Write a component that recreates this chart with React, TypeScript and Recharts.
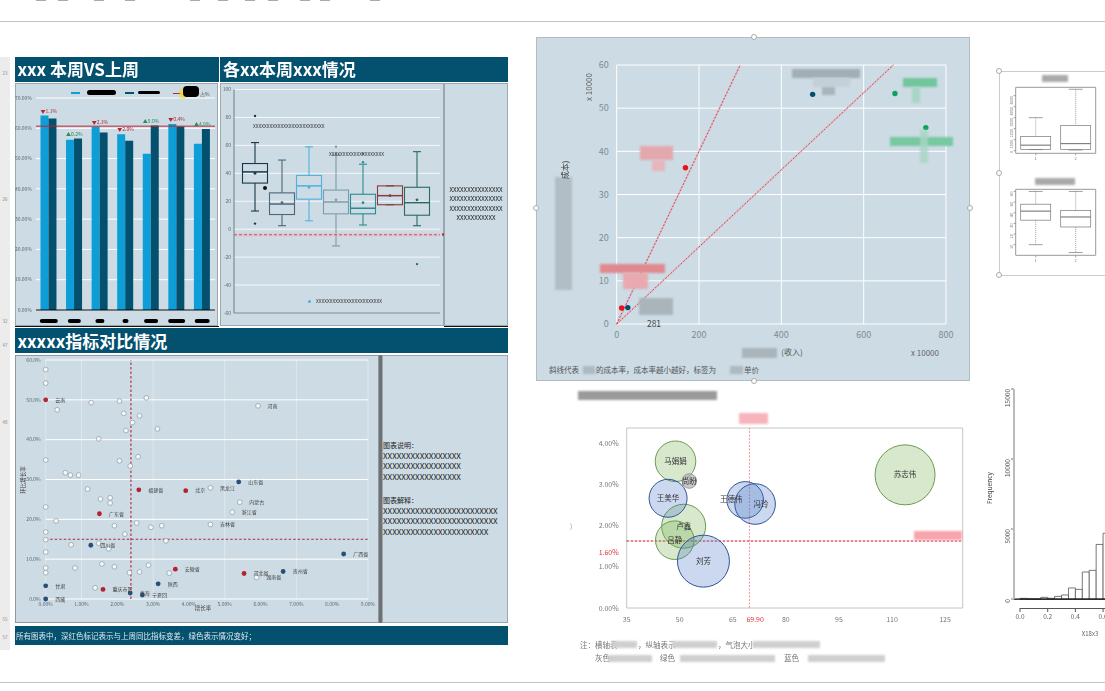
import {
  Bar,
  CartesianGrid,
  ComposedChart,
  LabelList,
  Line,
  ReferenceArea,
  ReferenceLine,
  Scatter,
  ScatterChart,
  XAxis,
  YAxis,
  ZAxis,
} from "recharts";

const NAVY = "#03516e";
const PANEL = "#ccdbe4";
const SKY = "#0d9ed8";
const FONT = '"Noto Sans CJK SC", "Noto Sans", sans-serif';

// 周对比柱状图
const weekCats = ["A", "B", "C", "D", "E", "F", "G"];
const lastWeek = [64.2, 56.2, 60.5, 58, 51.6, 61.4, 54.9];
const thisWeek = [63.2, 56.6, 58.6, 55.9, 60.9, 60.6, 59.8];
const weekDelta = ["▼1.1%", "▲0.2%", "▼2.1%", "▼2.0%", "▲9.0%", "▼0.4%", "▲4.9%"];
const weekTicks = [0, 10, 20, 30, 40, 50, 60, 70];
const weekRef = 60.7;
const weekRows = weekCats.map((c, i) => ({
  c,
  last: lastWeek[i],
  cur: thisWeek[i],
  top: Math.max(lastWeek[i], thisWeek[i]),
  delta: weekDelta[i],
}));

// 箱线图
const boxCats = ["1", "2", "3", "4", "5", "6", "7"];
const boxLo = [13, 2.5, 6, -12, 3, 17.5, 2.5];
const boxQ1 = [33, 10.5, 21.5, 11, 11, 17.5, 10];
const boxMed = [41, 18, 31, 19.5, 15, 24, 19];
const boxQ3 = [47, 26, 38.5, 28, 25, 31, 30];
const boxHi = [62, 49.5, 59, 53, 46.5, 31, 55.5];
const boxMean = [40, 19, 30, 21, 19, 24, 21];
const boxOut = [[81, 4], [], [], [59, 54], [48, 54], [], [-25]];
const boxRef = -4;
const boxTicks = [-60, -40, -20, 0, 20, 40, 60, 80, 100];
const boxColors = ["#17384a", "#4d6878", "#4fb2dc", "#7c9cac", "#2c8b92", "#8a3b3b", "#2b6b5c"];
const boxRows = boxCats.map((c, i) => ({
  c,
  lo: boxLo[i],
  q1: boxQ1[i],
  med: boxMed[i],
  q3: boxQ3[i],
  hi: boxHi[i],
  mean: boxMean[i],
  out: boxOut[i],
}));

// 指标散点
const idxHollow = [
  { x: 0, y: 57.6 }, { x: 0, y: 54.2 }, { x: 0.32, y: 47.5 }, { x: 1.27, y: 49.3 }, { x: 2.06, y: 49.7 },
  { x: 2.81, y: 50.5 }, { x: 2.18, y: 46.6 }, { x: 2.62, y: 46 }, { x: 2.42, y: 44.3 }, { x: 2.24, y: 42.3 },
  { x: 3.12, y: 42.7 }, { x: 1.48, y: 40.2 }, { x: 5.93, y: 48.5, name: "河南" }, { x: 0, y: 34.9 },
  { x: 2.06, y: 34.7 }, { x: 2.58, y: 35.7 }, { x: 2.36, y: 33.4 }, { x: 0.55, y: 31.7 }, { x: 0.69, y: 31.1 },
  { x: 0.92, y: 31.1 }, { x: 1.17, y: 27.6 }, { x: 1.53, y: 25.1 }, { x: 1.8, y: 25.4 }, { x: 1.8, y: 24.1 },
  { x: 0, y: 23.1 }, { x: 0.29, y: 19.6 }, { x: 1.92, y: 18.4 }, { x: 2.54, y: 19.1 }, { x: 2.94, y: 18 },
  { x: 3.24, y: 18.4 }, { x: 4.6, y: 18.7, name: "吉林省" }, { x: 4.6, y: 27.9, name: "黑龙江" },
  { x: 5.42, y: 24.3, name: "内蒙古" }, { x: 5.21, y: 21.8, name: "浙江省" }, { x: 0, y: 16.8 },
  { x: 2.21, y: 16.3 }, { x: 0, y: 14.9 }, { x: 0.71, y: 13.6 }, { x: 1.48, y: 14 }, { x: 1.76, y: 12.6 },
  { x: 3.36, y: 14.6 }, { x: 0, y: 11.8 }, { x: 0, y: 7.8 }, { x: 0, y: 6.6 }, { x: 0.82, y: 7.8 },
  { x: 1.57, y: 8.8 }, { x: 1.92, y: 8.1 }, { x: 2.34, y: 6.6 }, { x: 2.62, y: 6.8 }, { x: 2.87, y: 8.5 },
  { x: 3.45, y: 6.5 }, { x: 1.38, y: 2.8 }, { x: 5.89, y: 5.4, name: "湖南省" },
];
const idxRed = [
  { x: 0, y: 50, name: "云南" }, { x: 2.6, y: 27.4, name: "福建省" }, { x: 3.91, y: 27.2, name: "北京" },
  { x: 1.5, y: 21.4, name: "广东省" }, { x: 3.62, y: 7.5, name: "安徽省" }, { x: 5.54, y: 6.4, name: "河北省" },
  { x: 1.6, y: 2.4, name: "重庆市区" },
];
const idxBlue = [
  { x: 5.39, y: 29.4, name: "山东省" }, { x: 1.26, y: 13.5, name: "四川省" }, { x: 8.32, y: 11.3, name: "广西省" },
  { x: 6.63, y: 6.9, name: "贵州省" }, { x: 3.14, y: 3.8, name: "陕西" }, { x: 0, y: 3.3, name: "甘肃" },
  { x: 2.36, y: 1.5, name: "青海" }, { x: 2.7, y: 1, name: "宁夏回" }, { x: 0, y: 0, name: "西藏" },
];
const idxXTicks = [0, 1, 2, 3, 4, 5, 6, 7, 8, 9];
const idxYTicks = [0, 10, 20, 30, 40, 50, 60];
const idxRefX = 2.38;
const idxRefY = 15;

// 收入成本散点
const costRed = [{ x: 12, y: 3.7 }, { x: 167, y: 36.2 }];
const costTeal = [{ x: 27, y: 3.8 }, { x: 476, y: 53.2 }];
const costGreen = [{ x: 676, y: 53.4 }, { x: 751, y: 45.5 }];
const costXTicks = [0, 200, 400, 600, 800];
const costYTicks = [0, 10, 20, 30, 40, 50, 60];
const costSteep = 300;
const costFlat = 672;

// 气泡图
const bubbleBlue = [
  { x: 46.7, y: 2.67, z: 361, name: "王美华" }, { x: 56.7, y: 1.14, z: 676, name: "刘芳" },
  { x: 68.5, y: 2.63, z: 335, name: "王德伟" }, { x: 71.3, y: 2.53, z: 412, name: "冯玲" },
];
const bubbleGreen = [
  { x: 48.8, y: 3.57, z: 412, name: "马娟娟" }, { x: 51.1, y: 1.99, z: 484, name: "卢鑫" },
  { x: 48.6, y: 1.65, z: 372, name: "吕静" }, { x: 113.7, y: 3.24, z: 900, name: "苏志伟" },
];
const bubbleGray = [{ x: 52.7, y: 3.09, z: 53, name: "尚盼" }];
const bubbleXTicks = [35, 50, 65, 69.9, 80, 95, 110, 125];
const bubbleYTicks = [0, 1, 1.6, 2, 3, 4];

// 右上两个小箱线图
const miniCats = ["1", "2"];
const miniA = { lo: [100, 60], q1: [120, 120], med: [500, 640], q3: [1300, 2300], hi: [3000, 5580] };
const miniB = { lo: [10, 2.6], q1: [33, 26.6], med: [41.5, 36], q3: [48, 42], hi: [60, 60] };
const miniATicks = [0, 1000, 2000, 3000, 4000, 5000];
const miniBTicks = [10, 20, 30, 40, 50, 60];
const miniRows = (m: typeof miniA) =>
  miniCats.map((c, i) => ({ c, lo: m.lo[i], q1: m.q1[i], med: m.med[i], q3: m.q3[i], hi: m.hi[i], out: [] }));

// 直方图
const histEdges = [0, 0.05, 0.1, 0.15, 0.2, 0.25, 0.3, 0.35, 0.4, 0.45, 0.5, 0.55, 0.6];
const histFreq = [50, 20, 10, 120, 50, 190, 290, 790, 690, 1930, 2050, 3900, 4700];
const histRows = histEdges.map((e, i) => ({ b: String(e), edge: e, f: histFreq[i] }));
const histYTicks = [0, 5000, 10000, 15000];
const histXTicks = [0, 0.2, 0.4, 0.6];

const scribbles = [18, 13, 9, 6, 14, 17, 15];
const bubbleNudge: Record<string, number> = { 王德伟: -14, 冯玲: 6 };

const Note = ({ x, y, size, color = "#222", center, children }: any) => (
  <div
    style={{
      position: "absolute",
      left: x,
      top: y,
      fontSize: size,
      color,
      lineHeight: 1,
      whiteSpace: "nowrap",
      transform: center ? "translate(-50%,-50%)" : "translateY(-50%)",
    }}
  >
    {children}
  </div>
);

const Vert = ({ x, y, size, color = "#666", children }: any) => (
  <div
    style={{
      position: "absolute",
      left: x,
      top: y,
      fontSize: size,
      color,
      lineHeight: 1,
      whiteSpace: "nowrap",
      transform: "translate(-50%,-50%) rotate(-90deg)",
    }}
  >
    {children}
  </div>
);

const Rect = ({ x, y, w, h, bg, border, radius }: any) => (
  <div
    style={{
      position: "absolute",
      left: x,
      top: y,
      width: w,
      height: h,
      background: bg,
      border,
      borderRadius: radius,
      boxSizing: "border-box",
    }}
  />
);

const Smudge = ({ x, y, w, h, bg, o = 1, blur = 1.2 }: any) => (
  <div
    style={{
      position: "absolute",
      left: x,
      top: y,
      width: w,
      height: h,
      background: bg,
      opacity: o,
      filter: `blur(${blur}px)`,
    }}
  />
);

const Handle = ({ x, y }: any) => (
  <div
    style={{
      position: "absolute",
      left: x - 3,
      top: y - 3,
      width: 6,
      height: 6,
      borderRadius: 3,
      background: "#fff",
      border: "1px solid #aaa",
      boxSizing: "border-box",
    }}
  />
);

const Header = ({ x, y, w, h, children }: any) => (
  <div
    style={{
      position: "absolute",
      left: x,
      top: y,
      width: w,
      height: h,
      background: NAVY,
      color: "#fff",
      fontSize: 17,
      fontWeight: 700,
      lineHeight: `${h}px`,
      paddingLeft: 3,
      boxSizing: "border-box",
    }}
  >
    {children}
  </div>
);

const Chart = ({ x, y, children }: any) => <div style={{ position: "absolute", left: x, top: y }}>{children}</div>;

const BoxShape = (opts: any) => (props: any) => {
  const { x, y, width, height, payload, index } = props;
  const color = opts.colors[index];
  const unit = height / (payload.hi - payload.lo);
  const at = (v: number) => y + (payload.hi - v) * unit;
  const mid = x + width / 2;
  const cap = opts.cap;
  return (
    <g stroke={color} fill="none" strokeWidth={opts.sw}>
      <line x1={mid} x2={mid} y1={at(payload.hi)} y2={at(payload.q3)} strokeDasharray={opts.dash} />
      <line x1={mid} x2={mid} y1={at(payload.q1)} y2={at(payload.lo)} strokeDasharray={opts.dash} />
      <line x1={mid - cap} x2={mid + cap} y1={at(payload.hi)} y2={at(payload.hi)} />
      <line x1={mid - cap} x2={mid + cap} y1={at(payload.lo)} y2={at(payload.lo)} />
      <rect x={x} y={at(payload.q3)} width={width} height={at(payload.q1) - at(payload.q3)} />
      <line x1={x} x2={x + width} y1={at(payload.med)} y2={at(payload.med)} strokeWidth={opts.sw + 0.4} />
      {payload.mean !== undefined && <circle cx={mid} cy={at(payload.mean)} r={1.4} fill={color} stroke="none" />}
      {payload.out.map((v: number) => (
        <circle key={v} cx={mid} cy={at(v)} r={1.2} fill={color} stroke="none" />
      ))}
    </g>
  );
};

const BlobTick = ({ x, y, index }: any) => {
  const w = scribbles[index] ?? 0;
  return <rect x={x - w / 2} y={y + 1} width={w} height={4} rx={2} fill="#000" />;
};

const DeltaLabel = ({ x, y, width, value }: any) => (
  <text
    x={x + (width || 0) / 2}
    y={y - 3}
    textAnchor="middle"
    fontSize={5}
    fill={String(value).startsWith("▼") ? "#b3262e" : "#2c8a5c"}
  >
    {value}
  </text>
);

const BubbleXTick = ({ x, y, payload }: any) => {
  const red = payload.value === 69.9;
  return (
    <text x={red ? x + 5 : x} y={y + 6} textAnchor="middle" fontSize={7} fill={red ? "#e0303a" : "#777"}>
      {red ? "69.90" : payload.value}
    </text>
  );
};

const BubbleYTick = ({ x, y, payload }: any) => {
  const red = payload.value === 1.6;
  return (
    <text x={x} y={red ? y + 13 : y + 2.5} textAnchor="end" fontSize={7} fill={red ? "#e0303a" : "#777"}>
      {payload.value.toFixed(2)}%
    </text>
  );
};

const BubbleLabel = ({ x, y, width, height, value }: any) => (
  <text
    x={x + width / 2 + (bubbleNudge[value] ?? 0)}
    y={y + height / 2 + 2.5}
    textAnchor="middle"
    fontSize={7.5}
    fill="#333"
  >
    {value}
  </text>
);

const Dot = (r: number) => (p: any) => (
  <circle cx={p.cx} cy={p.cy} r={r} fill={p.fill} stroke={p.stroke} strokeWidth={p.strokeWidth} />
);

const tickGray = { fontSize: 5, fill: "#5b6b75" };

const WeekChart = () => (
  <ComposedChart
    width={203}
    height={242}
    data={weekRows}
    barCategoryGap="17.5%"
    barGap={0}
    margin={{ top: 15, right: 3, bottom: 0, left: 0 }}
  >
    <CartesianGrid vertical={false} stroke="#fff" />
    <XAxis dataKey="c" height={15} tick={<BlobTick />} tickLine={false} axisLine={{ stroke: "#000", strokeWidth: 1.2 }} />
    <YAxis
      width={21}
      domain={[0, 70]}
      ticks={weekTicks}
      axisLine={false}
      tickLine={false}
      tickSize={0}
      tickMargin={4}
      tick={tickGray}
      tickFormatter={(v) => `${v.toFixed(2)}%`}
    />
    <Bar dataKey="last" fill={SKY} isAnimationActive={false} />
    <Bar dataKey="cur" fill={NAVY} isAnimationActive={false} />
    <ReferenceLine y={weekRef} stroke="#c0222c" strokeWidth={1} />
    <Line dataKey="top" stroke="none" dot={false} isAnimationActive={false}>
      <LabelList dataKey="delta" content={<DeltaLabel />} />
    </Line>
  </ComposedChart>
);

const BoxChart = () => (
  <ComposedChart width={224} height={242} data={boxRows} margin={{ top: 6.5, right: 4, bottom: 12, left: 0 }}>
    <CartesianGrid vertical={false} stroke="#fff" strokeOpacity={0.8} />
    <XAxis dataKey="c" hide padding={{ left: 7.5, right: 9.5 }} />
    <YAxis
      width={14}
      domain={[-60, 100]}
      ticks={boxTicks}
      tick={tickGray}
      tickLine={false}
      tickSize={0}
      tickMargin={3}
      axisLine={{ stroke: "#6b7f8b" }}
    />
    <ReferenceLine y={-60} stroke="#6b7f8b" />
    <ReferenceLine y={boxRef} stroke="#f0b8c0" strokeWidth={4} strokeOpacity={0.45} />
    <ReferenceLine y={boxRef} stroke="#b8324a" strokeDasharray="3 2" strokeWidth={0.8} />
    <Bar
      dataKey={(d: any) => [d.lo, d.hi]}
      barSize={25}
      isAnimationActive={false}
      shape={BoxShape({ colors: boxColors, sw: 1.1, cap: 4 })}
    />
  </ComposedChart>
);

const IndexChart = () => (
  <ScatterChart width={364} height={268} margin={{ top: 5, right: 11, bottom: 0, left: 0 }}>
    <CartesianGrid vertical={false} stroke="#fff" />
    <CartesianGrid horizontal={false} stroke="#fff" strokeOpacity={0.35} />
    <XAxis
      type="number"
      dataKey="x"
      height={24}
      domain={[0, 9]}
      ticks={idxXTicks}
      tick={tickGray}
      tickLine={false}
      tickSize={0}
      tickMargin={3}
      axisLine={false}
      tickFormatter={(v) => `${v.toFixed(2)}%`}
    />
    <YAxis
      type="number"
      dataKey="y"
      width={30.7}
      domain={[0, 60]}
      ticks={idxYTicks}
      tick={tickGray}
      tickLine={false}
      tickSize={0}
      tickMargin={5}
      axisLine={false}
      tickFormatter={(v) => `${v.toFixed(1)}%`}
    />
    <ReferenceLine x={idxRefX} stroke="#b3263e" strokeDasharray="2.5 2" strokeWidth={1.1} />
    <ReferenceLine y={idxRefY} stroke="#b3263e" strokeDasharray="2.5 2" strokeWidth={1.1} />
    <Scatter
      data={idxHollow}
      fill="#f4f8fa"
      stroke="#7f8d96"
      strokeWidth={0.6}
      shape={Dot(2.4)}
      isAnimationActive={false}
    >
      <LabelList dataKey="name" position="right" fontSize={5} fill="#444" />
    </Scatter>
    <Scatter data={idxRed} fill="#b3222e" shape={Dot(2.4)} isAnimationActive={false}>
      <LabelList dataKey="name" position="right" fontSize={5} fill="#444" />
    </Scatter>
    <Scatter data={idxBlue} fill="#274d78" shape={Dot(2.4)} isAnimationActive={false}>
      <LabelList dataKey="name" position="right" fontSize={5} fill="#444" />
    </Scatter>
  </ScatterChart>
);

const CostChart = () => (
  <ScatterChart width={434} height={344} margin={{ top: 28, right: 24, bottom: 0, left: 0 }}>
    <CartesianGrid stroke="#fff" />
    <XAxis
      type="number"
      dataKey="x"
      height={57}
      domain={[0, 800]}
      ticks={costXTicks}
      tick={{ fontSize: 9, fill: "#7f8c94" }}
      tickLine={false}
      axisLine={false}
    />
    <YAxis
      type="number"
      dataKey="y"
      width={80.7}
      domain={[0, 60]}
      ticks={costYTicks}
      tick={{ fontSize: 9, fill: "#7f8c94" }}
      tickLine={false}
      axisLine={false}
    />
    {[costSteep, costFlat].map((end) => (
      <ReferenceLine
        key={`u${end}`}
        segment={[{ x: 0, y: 0 }, { x: end, y: 60 }]}
        stroke="#e8b6c0"
        strokeWidth={2}
        strokeOpacity={0.6}
      />
    ))}
    {[costSteep, costFlat].map((end) => (
      <ReferenceLine
        key={`d${end}`}
        segment={[{ x: 0, y: 0 }, { x: end, y: 60 }]}
        stroke="#c42a3c"
        strokeWidth={0.8}
        strokeDasharray="2 1.5"
      />
    ))}
    <Scatter data={costRed} fill="#e8141c" shape={Dot(2.7)} isAnimationActive={false} />
    <Scatter data={costTeal} fill="#034e6c" shape={Dot(2.7)} isAnimationActive={false} />
    <Scatter data={costGreen} fill="#0ba35c" shape={Dot(2.7)} isAnimationActive={false} />
  </ScatterChart>
);

const BubbleChart = () => (
  <ScatterChart width={380} height={225} margin={{ top: 18, right: 7.3, bottom: 0, left: 0 }}>
    <XAxis
      type="number"
      dataKey="x"
      height={27}
      domain={[35, 130]}
      ticks={bubbleXTicks}
      interval={0}
      tick={<BubbleXTick />}
      tickLine={false}
      axisLine={false}
    />
    <YAxis
      type="number"
      dataKey="y"
      width={36.7}
      domain={[0, 4.38]}
      ticks={bubbleYTicks}
      interval={0}
      tick={<BubbleYTick />}
      tickLine={false}
      axisLine={false}
    />
    <ZAxis type="number" dataKey="z" domain={[0, 900]} range={[0, 2827]} />
    <ReferenceArea x1={35} x2={130} y1={0} y2={4.38} fill="none" stroke="#c4c4c4" />
    <Scatter data={bubbleGreen} fill="#70ad47" fillOpacity={0.28} stroke="#6a9a50" isAnimationActive={false}>
      <LabelList dataKey="name" content={<BubbleLabel />} />
    </Scatter>
    <Scatter data={bubbleGray} fill="#a5a5a5" fillOpacity={0.6} stroke="#999" isAnimationActive={false}>
      <LabelList dataKey="name" content={<BubbleLabel />} />
    </Scatter>
    <Scatter data={bubbleBlue} fill="#4472c4" fillOpacity={0.28} stroke="#2f5597" isAnimationActive={false}>
      <LabelList dataKey="name" content={<BubbleLabel />} />
    </Scatter>
    <ReferenceLine x={69.7} stroke="#f2929a" strokeDasharray="2 1.5" />
    <ReferenceLine y={1.63} stroke="#c8141e" strokeDasharray="2.5 1.5" />
  </ScatterChart>
);

const MiniBox = ({ rows, domain, ticks }: any) => (
  <ComposedChart width={104} height={100} data={rows} margin={{ top: 16.3, right: 7.3, bottom: 0, left: 0 }}>
    <XAxis
      dataKey="c"
      height={17.7}
      tick={{ fontSize: 4, fill: "#777" }}
      tickSize={2}
      axisLine={false}
      stroke="#999"
    />
    <YAxis
      width={16.7}
      domain={domain}
      ticks={ticks}
      angle={-90}
      tick={{ fontSize: 4, fill: "#777" }}
      tickSize={2}
      axisLine={false}
      stroke="#999"
    />
    <ReferenceArea y1={domain[0]} y2={domain[1]} fill="none" stroke="#999" ifOverflow="visible" />
    <Bar
      dataKey={(d: any) => [d.lo, d.hi]}
      barSize={30}
      isAnimationActive={false}
      shape={BoxShape({ colors: ["#777", "#777"], sw: 0.7, cap: 7, dash: "1 1" })}
    />
  </ComposedChart>
);

const HistChart = () => (
  <ComposedChart
    width={140}
    height={270}
    data={histRows}
    barCategoryGap={0}
    margin={{ top: 14, right: 0, bottom: 0, left: 0 }}
  >
    <XAxis xAxisId="bins" dataKey="b" hide height={0} padding={{ left: 6, right: 0 }} />
    <XAxis
      xAxisId="num"
      dataKey="edge"
      type="number"
      height={37}
      domain={[-0.0434, 0.65]}
      ticks={histXTicks}
      allowDataOverflow
      tick={{ fontSize: 6.5, fill: "#666" }}
      tickFormatter={(v) => v.toFixed(1)}
      axisLine={false}
      stroke="#555"
      tickSize={4}
    />
    <YAxis
      width={44}
      domain={[-640, 15000]}
      ticks={histYTicks}
      angle={-90}
      tick={{ fontSize: 6.5, fill: "#555" }}
      axisLine={false}
      stroke="#777"
      tickSize={3}
      tickMargin={3}
    />
    <Bar xAxisId="bins" dataKey="f" fill="#fff" stroke="#555" strokeWidth={0.8} isAnimationActive={false} />
    <ReferenceLine xAxisId="bins" y={0} stroke="#000" strokeWidth={1.2} />
  </ComposedChart>
);

const xs = (n: number) => "X".repeat(n);

export default function App() {
  return (
    <div
      style={{
        position: "absolute",
        left: 0,
        top: 0,
        width: 1105,
        height: 691,
        overflow: "hidden",
        background: "#fff",
        fontFamily: FONT,
      }}
    >
      <div style={{ position: "absolute", inset: 0, filter: "blur(0.45px)" }}>
        <Rect x={0} y={21} w={1105} h={1} bg="#c4c4c4" />
        <Rect x={0} y={682} w={1105} h={1} bg="#c4c4c4" />
        {[36, 58, 94, 125, 190, 218, 245, 268, 300, 320, 370].map((x) => (
          <Smudge key={x} x={x} y={-1} w={10} h={2} bg="#aaa" blur={0.6} />
        ))}

        <Rect x={0} y={57} w={10} h={593} bg="#ececec" />
        {[["23", 73], ["26", 199], ["32", 321], ["47", 345], ["48", 422], ["55", 619], ["57", 637]].map(([t, y]) => (
          <Note key={t} x={5} y={y} size={4.5} color="#888" center>{t}</Note>
        ))}

        <Header x={14.5} y={57} w={204} h={24.5}>xxx 本周VS上周</Header>
        <Header x={220} y={57} w={288} h={24.5}>各xx本周xxx情况</Header>
        <Header x={14.5} y={328} w={493.5} h={25}>xxxxx指标对比情况</Header>
        <Rect x={15} y={83} w={203} h={243} bg={PANEL} border="1px solid #9aa8b0" />
        <Rect x={220} y={83} w={224} h={243} bg={PANEL} border="1px solid #9aa8b0" />
        <Rect x={444} y={83} w={64} h={243} bg={PANEL} border="1px solid #9aa8b0" />
        <Rect x={15} y={326} w={204} h={1} bg="#111" />
        <Rect x={444} y={326} w={64} h={1} bg="#111" />
        <Rect x={15} y={355} w={364} h={268} bg={PANEL} border="1px solid #8e9aa2" />
        <Rect x={379} y={355} w={3} h={268} bg="#707070" />
        <Rect x={382} y={355} w={126} h={268} bg={PANEL} border="1px solid #9aa8b0" />
        <Rect x={14.5} y={626} w={493.5} h={19} bg={NAVY} />
        <Note x={16} y={635.5} size={7.5} color="#dfe8ec">所有图表中，深红色标记表示与上周同比指标变差，绿色表示情况变好；</Note>

        <Chart x={15} y={83}><WeekChart /></Chart>
        <Rect x={71} y={91.5} w={9} h={2} bg={SKY} />
        <Rect x={87} y={90} w={29} h={4.5} bg="#000" radius={3} />
        <Rect x={125} y={91.5} w={9} h={2} bg={NAVY} />
        <Rect x={138} y={91} w={22} h={3} bg="#000" radius={2} />
        <Rect x={173} y={92.5} w={9} h={1} bg="#c0222c" />
        <Smudge x={180} y={89} w={6} h={9} bg="#f2d83a" blur={1} />
        <Rect x={183} y={86} w={16} h={11} bg="#000" radius={4} />
        <Note x={200} y={93} size={5} color="#555">占%</Note>

        <Chart x={220} y={83}><BoxChart /></Chart>
        <Note x={253} y={126} size={4.8} color="#333">{xs(26)}</Note>
        <Note x={329} y={154} size={4.8} color="#333">{xs(20)}</Note>
        <Note x={316} y={301} size={4.8} color="#333">{xs(24)}</Note>
        <Rect x={308} y={300} w={2.5} h={2.5} bg="#4fb2dc" radius={2} />
        <Rect x={263} y={186} w={3.5} h={3.5} bg="#111" radius={2} />
        <Rect x={441.5} y={233} w={2.5} h={2.5} bg="#b8324a" radius={2} />
        {[190, 199, 209].map((y) => (
          <Note key={y} x={476} y={y} size={6.2} center>{xs(15)}</Note>
        ))}
        <Note x={476} y={218} size={6.2} center>{xs(11)}</Note>

        <Chart x={15} y={355}><IndexChart /></Chart>
        <Vert x={24} y={480} size={5.5} color="#444">环比增长率</Vert>
        <Note x={203} y={609} size={5.5} color="#444" center>增长率</Note>
        <Note x={383} y={445} size={7}>图表说明：</Note>
        {[456, 466, 477].map((y) => <Note key={y} x={383} y={y} size={8}>{xs(17)}</Note>)}
        <Note x={383} y={500} size={7}>图表解释：</Note>
        {[511, 521, 532].map((y, i) => <Note key={y} x={383} y={y} size={8}>{xs(i === 2 ? 23 : 25)}</Note>)}

        <Rect x={536} y={37} w={434} h={344} bg={PANEL} border="1px solid #b4bcc2" />
        <Chart x={536} y={37}><CostChart /></Chart>
        <Handle x={754} y={37} />
        <Handle x={536} y={208} />
        <Handle x={970} y={208} />
        <Handle x={754} y={381} />
        <Smudge x={792} y={69} w={68} h={9} bg="#9aa6ae" o={0.85} />
        <Smudge x={813} y={78} w={37} h={9} bg="#c4d0d8" />
        <Smudge x={822} y={87} w={13} h={8} bg="#a8b4bc" />
        <Smudge x={903} y={78} w={34} h={9} bg="#72c69c" />
        <Smudge x={912} y={87} w={8} h={16} bg="#a8d6c4" />
        <Smudge x={890} y={137} w={63} h={9} bg="#78c8a2" />
        <Smudge x={920} y={130} w={8} h={33} bg="#a8d6c4" o={0.8} />
        <Smudge x={640} y={146} w={33} h={14} bg="#e3a8ae" />
        <Smudge x={652} y={160} w={13} h={11} bg="#e6b6bc" />
        <Smudge x={600} y={264} w={65} h={9} bg="#e08a90" />
        <Smudge x={623} y={273} w={25} h={16} bg="#e8aab0" />
        <Smudge x={639} y={298} w={34} h={17} bg="#a9b5bb" />
        <Smudge x={555} y={177} w={17} h={113} bg="#b2bec6" />
        <Smudge x={742} y={348} w={35} h={10} bg="#a9b5bb" />
        <Note x={654} y={323} size={8.5} color="#444" center>281</Note>
        <Note x={792} y={352} size={8} color="#555" center>(收入)</Note>
        <Note x={925} y={353} size={8} color="#666" center>x 10000</Note>
        <Vert x={589} y={87} size={8} color="#666">x 10000</Vert>
        <Vert x={565} y={170} size={8} color="#444">成本)</Vert>
        <Note x={549} y={370} size={7.5} color="#555">斜线代表</Note>
        <Smudge x={583} y={366} w={12} h={8} bg="#aeb9c0" />
        <Note x={596} y={370} size={7.5} color="#555">的成本率，成本率越小越好，标签为</Note>
        <Smudge x={730} y={366} w={13} h={8} bg="#aeb9c0" />
        <Note x={744} y={370} size={7.5} color="#555">单价</Note>

        <Chart x={590} y={410}><BubbleChart /></Chart>
        <Smudge x={578} y={391} w={139} h={9} bg="#9a9a9a" />
        <Smudge x={739} y={413} w={29} h={11} bg="#f8b4bc" />
        <Smudge x={914} y={531} w={48} h={9} bg="#f8a4ac" />
        <Note x={570} y={526} size={7} color="#999">)</Note>
        <Note x={580} y={645} size={7.5} color="#777">注：横轴表</Note>
        <Smudge x={612} y={641} w={25} h={7} bg="#cfcfcf" />
        <Note x={638} y={645} size={7.5} color="#777">，纵轴表示</Note>
        <Smudge x={672} y={641} w={45} h={7} bg="#cfcfcf" />
        <Note x={718} y={645} size={7.5} color="#777">，气泡大小</Note>
        <Smudge x={753} y={641} w={67} h={7} bg="#cfcfcf" />
        <Note x={595} y={658} size={7.5} color="#777">灰色</Note>
        <Smudge x={608} y={655} w={44} h={7} bg="#cfcfcf" />
        <Note x={660} y={658} size={7.5} color="#777">绿色</Note>
        <Smudge x={680} y={655} w={95} h={7} bg="#cfcfcf" />
        <Note x={784} y={658} size={7.5} color="#777">蓝色</Note>
        <Smudge x={808} y={655} w={77} h={7} bg="#cfcfcf" />

        <Rect x={998.5} y={71} w={1.5} h={204} bg="#ccc" />
        <Rect x={999} y={70.5} w={106} h={1} bg="#ccc" />
        <Rect x={999} y={275} w={106} h={1} bg="#ccc" />
        <Handle x={999} y={71} />
        <Handle x={999} y={173} />
        <Handle x={999} y={275} />
        <Smudge x={1042} y={75} w={26} h={7} bg="#aaa" />
        <Smudge x={1035} y={178} w={40} h={7} bg="#aaa" />
        <Chart x={999} y={71}>
          <MiniBox rows={miniRows(miniA)} domain={[-240, 5760]} ticks={miniATicks} />
        </Chart>
        <Chart x={999} y={173}>
          <MiniBox rows={miniRows(miniB)} domain={[0, 62]} ticks={miniBTicks} />
        </Chart>

        <Chart x={970} y={375}><HistChart /></Chart>
        <Rect x={1013} y={389} w={2} h={210} bg="#bbb" />
        <Rect x={1020} y={608} w={85} h={1} bg="#555" />
        <Vert x={989} y={488} size={6.5} color="#444">Frequency</Vert>
        <Note x={1090} y={634} size={6} color="#666" center>X18x3</Note>
      </div>
    </div>
  );
}
